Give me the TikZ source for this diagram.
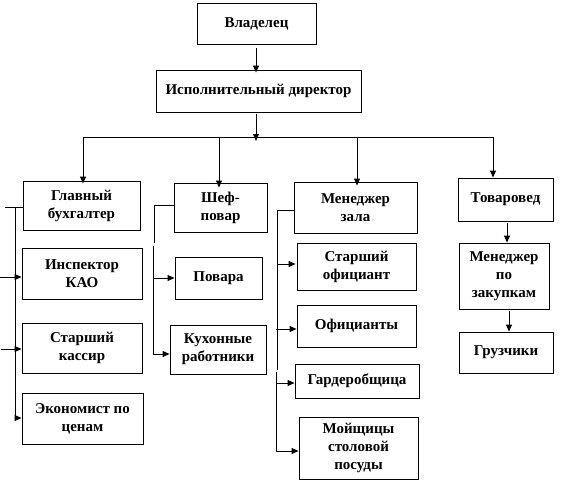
\documentclass[tikz,border=0pt]{standalone}
\usepackage{fontspec}
\setmainfont{Liberation Serif}
\usetikzlibrary{arrows.meta}
\begin{document}
\begin{tikzpicture}[x=1pt,y=-1pt,
  box/.style={draw,line width=0.9pt,inner sep=0pt,align=center,
    font=\fontsize{15}{18}\selectfont\bfseries},
  ln/.style={line width=0.9pt},
  arr/.style={line width=0.9pt,-{Triangle[length=7pt,width=6pt]}}]
\useasboundingbox (0,0) rectangle (566,482);
% boxes
\node[box,minimum width=119pt,minimum height=41pt] (vl) at (256.5,23.5) {Владелец};
\node[box,minimum width=205pt,minimum height=42pt] (ed) at (258.5,91) {Исполнительный директор};
\node[box,minimum width=117pt,minimum height=49pt] (gb) at (81.5,205.5) {Главный\\бухгалтер};
\node[box,minimum width=120pt,minimum height=51pt] (ik) at (82,273.5) {Инспектор\\КАО};
\node[box,minimum width=120pt,minimum height=50pt] (sk) at (82,348) {Старший\\кассир};
\node[box,minimum width=121pt,minimum height=51pt] (ek) at (82.5,418.5) {Экономист по\\ценам};
\node[box,minimum width=93pt,minimum height=49pt] (sp) at (220.5,207.5) {Шеф-\\повар};
\node[box,minimum width=87pt,minimum height=42pt] (pv) at (218.5,278) {Повара};
\node[box,minimum width=96pt,minimum height=49pt] (kr) at (218,349.5) {Кухонные\\работники};
\node[box,minimum width=123pt,minimum height=51pt] (mz) at (355.5,207.5) {Менеджер\\зала};
\node[box,minimum width=119pt,minimum height=47pt] (so) at (356.5,266.5) {Старший\\официант};
\node[box,minimum width=119pt,minimum height=42pt] (of) at (356.5,326) {Официанты};
\node[box,minimum width=124pt,minimum height=34pt] (gd) at (357,381) {Гардеробщица};
\node[box,minimum width=119pt,minimum height=62pt] (mo) at (358.5,448) {Мойщицы\\столовой\\посуды};
\node[box,minimum width=95pt,minimum height=43pt] (tv) at (505.5,199.5) {Товаровед};
\node[box,minimum width=90pt,minimum height=66pt] (mzk) at (504,276) {Менеджер\\по\\закупкам};
\node[box,minimum width=94pt,minimum height=41pt] (gr) at (506,352.5) {Грузчики};
% top connectors
\coordinate (t1) at (256,48);
\coordinate (t2) at (256,114);
\coordinate (bus0) at (256,137);
\coordinate (b1) at (83,137);
\coordinate (b2) at (219,137);
\coordinate (b3) at (357,137);
\coordinate (b4) at (493,137);
\draw[arr] (t1) -- ([yshift=-3pt]t1 |- ed.north);
\draw[arr] (t2) -- ([yshift=-4pt]bus0);
\draw[ln] (b1) -- (b4);
\draw[arr] (b1) -- ([yshift=-3pt]b1 |- gb.north);
\draw[arr] (b2) -- ([yshift=-5pt]b2 |- sp.north);
\draw[arr] (b3) -- ([yshift=-4pt]b3 |- mz.north);
\draw[arr] (b4) -- (b4 |- tv.north);
% accounting group
\coordinate (g0) at (5,207);
\coordinate (g1) at (15,207);
\coordinate (g2) at (15,418);
\coordinate (gi) at (0,277);
\coordinate (gs) at (1,349);
\draw[ln] (g0) -- (g0 -| gb.west);
\draw[ln] (g1) -- (g2);
\draw[arr] (gi) -- (gi -| ik.west);
\draw[arr] (gs) -- (gs -| sk.west);
\draw[arr] (g2) -- (g2 -| ek.west);
% kitchen group
\coordinate (c0) at (154,205);
\coordinate (c1) at (154,243);
\coordinate (c2) at (153,246);
\coordinate (c3) at (153,354);
\coordinate (cp) at (153,278);
\draw[ln] (c0 -| sp.west) -- (c0) -- (c1);
\draw[ln] (c2) -- (c3);
\draw[arr] (cp) -- (cp -| pv.west);
\draw[arr] (c3) -- (c3 -| kr.west);
% hall group
\coordinate (h0) at (277,210);
\coordinate (h1) at (277,370);
\coordinate (h2) at (276,372);
\coordinate (h3) at (276,451);
\coordinate (hs) at (277,264);
\coordinate (ho) at (276,329);
\coordinate (hg) at (277,383);
\draw[ln] (h0 -| mz.west) -- (h0) -- (h1);
\draw[ln] (h2) -- (h3);
\draw[arr] (hs) -- ([xshift=-1pt]hs -| so.west);
\draw[arr] (ho) -- (ho -| of.west);
\draw[arr] (hg) -- (hg -| gd.west);
\draw[arr] (h3) -- (h3 -| mo.west);
% goods group
\coordinate (v1) at (507,223);
\coordinate (v2) at (509,311);
\draw[arr] (v1) -- (v1 |- mzk.north);
\draw[arr] (v2) -- (v2 |- gr.north);
\end{tikzpicture}
\end{document}
